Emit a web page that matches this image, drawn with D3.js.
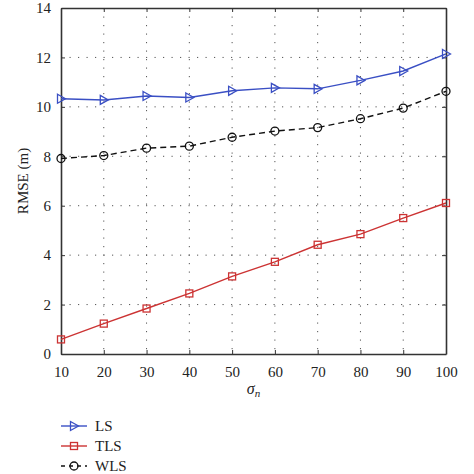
<!DOCTYPE html>
<html lang="en">
<head>
    <meta charset="UTF-8">
    <title>RMSE vs sigma_n</title>
    <script src="https://d3js.org/d3.v7.min.js"></script>
    <style>
        body { margin: 0; background: #fff; }
        text { font-family: "Liberation Serif", "DejaVu Serif", serif; fill: #222; }
    </style>
</head>
<body>
<div id="chart"></div>
<script>
// values
const sigmaN = [10, 20, 30, 40, 50, 60, 70, 80, 90, 100];
const lsValues = [10.33, 10.28, 10.44, 10.38, 10.65, 10.77, 10.73, 11.07, 11.45, 12.14];
const tlsValues = [0.59, 1.23, 1.84, 2.45, 3.14, 3.73, 4.42, 4.85, 5.5, 6.11];
const wlsValues = [7.91, 8.03, 8.33, 8.41, 8.77, 9.02, 9.16, 9.52, 9.95, 10.63];
const yTicks = [0, 2, 4, 6, 8, 10, 12, 14];
const seriesNames = ["LS", "TLS", "WLS"];

const width = 474, height = 474;
const margin = { top: 8, right: 28, bottom: 120, left: 61 };
const plotW = width - margin.left - margin.right;
const plotH = height - margin.top - margin.bottom;

const svg = d3.select("#chart").append("svg")
    .attr("width", width)
    .attr("height", height);

const g = svg.append("g")
    .attr("transform", `translate(${margin.left},${margin.top})`);

const x = d3.scaleLinear().domain([10, 100]).range([0, plotW]);
const y = d3.scaleLinear().domain([0, 14]).range([plotH, 0]);

// dotted grid
g.append("g").selectAll("line")
    .data(sigmaN.slice(1, -1))
    .join("line")
    .attr("x1", d => x(d)).attr("x2", d => x(d))
    .attr("y1", 0).attr("y2", plotH)
    .attr("stroke", "#555").attr("stroke-width", 1)
    .attr("stroke-dasharray", "1.2,7.3");
g.append("g").selectAll("line")
    .data(yTicks.slice(1, -1))
    .join("line")
    .attr("x1", 0).attr("x2", plotW)
    .attr("y1", d => y(d)).attr("y2", d => y(d))
    .attr("stroke", "#555").attr("stroke-width", 1)
    .attr("stroke-dasharray", "1.2,7.3");

// axes with inward ticks
g.append("g")
    .attr("transform", `translate(0,${plotH})`)
    .call(d3.axisBottom(x).tickValues(sigmaN).tickSizeInner(-4).tickSizeOuter(0).tickPadding(12));
g.append("g")
    .call(d3.axisLeft(y).tickValues(yTicks).tickSizeInner(-4).tickSizeOuter(0).tickPadding(10));
g.append("g")
    .attr("transform", `translate(${plotW},0)`)
    .call(d3.axisRight(y).tickValues(yTicks).tickSizeInner(-4).tickSizeOuter(0).tickFormat(""));
g.append("g")
    .call(d3.axisTop(x).tickValues(sigmaN).tickSizeInner(-4).tickSizeOuter(0).tickFormat(""));

g.selectAll(".domain").attr("stroke", "#333").attr("stroke-width", 1.6);
g.selectAll(".tick line").attr("stroke", "#333");
g.selectAll(".tick text")
    .attr("font-size", 15)
    .attr("fill", "#222");

// axis titles
svg.append("text")
    .attr("transform", `translate(28,${margin.top + plotH / 2}) rotate(-90)`)
    .attr("text-anchor", "middle")
    .attr("font-size", 15)
    .text("RMSE (m)");

svg.append("text")
    .attr("x", margin.left + plotW / 2)
    .attr("y", 394)
    .attr("text-anchor", "middle")
    .attr("font-size", 16)
    .attr("font-style", "italic")
    .html("σ<tspan font-size='11' dy='3'>n</tspan>");

const line = d3.line().x((d, i) => x(sigmaN[i])).y(d => y(d));

const series = [
    { name: seriesNames[0], values: lsValues, color: "#3a4fc4", dash: null, marker: "tri" },
    { name: seriesNames[1], values: tlsValues, color: "#cc3333", dash: null, marker: "square" },
    { name: seriesNames[2], values: wlsValues, color: "#111", dash: "6,4", marker: "circle" }
];

function drawMarker(sel, type, color) {
    if (type === "tri") {
        sel.append("path").attr("d", "M-3.5,-4.5 L4.5,0 L-3.5,4.5 Z")
            .attr("fill", "none").attr("stroke", color).attr("stroke-width", 1.3);
    } else if (type === "square") {
        sel.append("rect").attr("x", -3.5).attr("y", -3.5).attr("width", 7).attr("height", 7)
            .attr("fill", "none").attr("stroke", color).attr("stroke-width", 1.3);
    } else {
        sel.append("circle").attr("r", 4)
            .attr("fill", "none").attr("stroke", color).attr("stroke-width", 1.3);
    }
}

series.forEach(s => {
    g.append("path")
        .datum(s.values)
        .attr("d", line)
        .attr("fill", "none")
        .attr("stroke", s.color)
        .attr("stroke-width", 1.4)
        .attr("stroke-dasharray", s.dash);
    g.append("g").selectAll("g")
        .data(s.values)
        .join("g")
        .attr("transform", (d, i) => `translate(${x(sigmaN[i])},${y(d)})`)
        .each(function () { drawMarker(d3.select(this), s.marker, s.color); });
});

// legend
const legend = svg.append("g").attr("transform", "translate(61,426)");
series.forEach((s, i) => {
    const row = legend.append("g").attr("transform", `translate(0,${i * 20})`);
    row.append("line")
        .attr("x1", 0).attr("x2", 26)
        .attr("stroke", s.color).attr("stroke-width", 1.4)
        .attr("stroke-dasharray", s.dash ? "4,4" : null);
    drawMarker(row.append("g").attr("transform", "translate(13,0)"), s.marker, s.color);
    row.append("text")
        .attr("x", 34).attr("y", 5)
        .attr("font-size", 15)
        .text(s.name);
});
</script>
</body>
</html>
